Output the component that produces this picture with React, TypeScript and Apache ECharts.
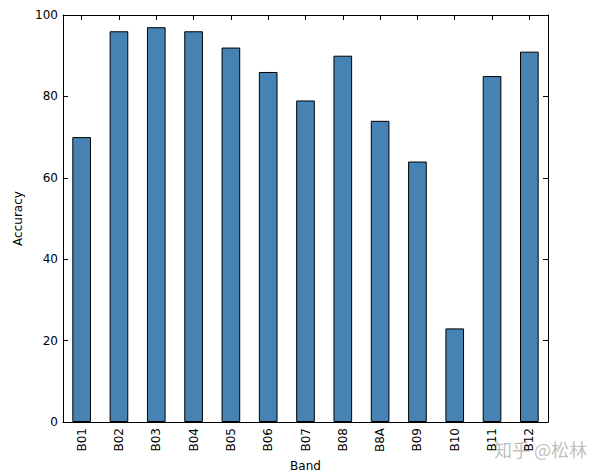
import React, { useEffect, useRef } from "react";
import * as echarts from "echarts";

const bands = ["B01", "B02", "B03", "B04", "B05", "B06", "B07", "B08", "B8A", "B09", "B10", "B11", "B12"];
const accuracy = [70, 96, 97, 96, 92, 86, 79, 90, 74, 64, 23, 85, 91];
const yTicks = [0, 20, 40, 60, 80, 100];

export default function App() {
  const ref = useRef<HTMLDivElement>(null);
  useEffect(() => {
    const chart = echarts.init(ref.current!, null, { renderer: "svg" });
    const font = "DejaVu Sans";
    chart.setOption({
      animation: false,
      backgroundColor: "#fff",
      grid: { left: 63, right: 52, top: 15, bottom: 51, containLabel: false, outerBoundsMode: "none" },
      xAxis: [
        {
          type: "category",
          data: bands,
          name: "Band",
          nameLocation: "middle",
          nameGap: 35,
          nameTextStyle: { color: "#000", fontSize: 12, fontFamily: font },
          axisLine: { show: true, onZero: false, lineStyle: { color: "#000", width: 1 } },
          axisTick: { show: true, inside: true, alignWithLabel: true, length: 5, lineStyle: { color: "#000" } },
          axisLabel: { rotate: 90, color: "#000", fontSize: 12, fontFamily: font, margin: 6 },
          splitLine: { show: false },
        },
        {
          type: "category",
          data: bands,
          position: "top",
          axisLine: { show: true, onZero: false, lineStyle: { color: "#000", width: 1 } },
          axisTick: { show: true, inside: true, alignWithLabel: true, length: 5, lineStyle: { color: "#000" } },
          axisLabel: { show: false },
          splitLine: { show: false },
        },
      ],
      yAxis: [
        {
          type: "value",
          min: 0,
          max: 100,
          interval: 20,
          name: "Accuracy",
          nameLocation: "middle",
          nameGap: 34,
          nameTextStyle: { color: "#000", fontSize: 12, fontFamily: font },
          axisLine: { show: true, onZero: false, lineStyle: { color: "#000", width: 1 } },
          axisTick: { show: true, inside: true, length: 5, lineStyle: { color: "#000" } },
          axisLabel: {
            color: "#000",
            fontSize: 12,
            fontFamily: font,
            margin: 5,
            formatter: (v: number) => (yTicks.includes(v) ? String(v) : ""),
          },
          splitLine: { show: false },
        },
        {
          type: "value",
          min: 0,
          max: 100,
          interval: 20,
          position: "right",
          axisLine: { show: true, onZero: false, lineStyle: { color: "#000", width: 1 } },
          axisTick: { show: true, inside: true, length: 5, lineStyle: { color: "#000" } },
          axisLabel: { show: false },
          splitLine: { show: false },
        },
      ],
      series: [
        {
          type: "bar",
          data: accuracy,
          barWidth: "50%",
          itemStyle: { color: "#4682b4", borderColor: "#000", borderWidth: 1 },
        },
      ],
      graphic: [
        {
          type: "text",
          right: 13,
          top: 440,
          style: {
            text: "知乎 @松林",
            fill: "rgba(170,170,170,0.75)",
            fontSize: 18,
            fontFamily: "Noto Sans CJK SC",
          },
        },
      ],
    });
    return () => chart.dispose();
  }, []);
  return <div ref={ref} style={{ width: 600, height: 473, position: "absolute", left: 0, top: 0 }} />;
}
